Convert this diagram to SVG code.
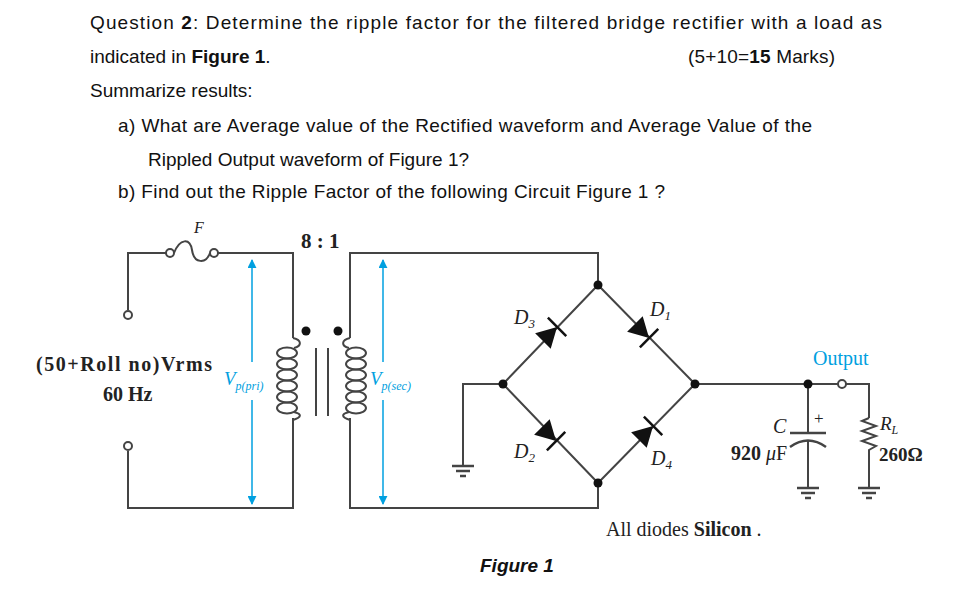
<svg xmlns="http://www.w3.org/2000/svg" width="966" height="594" viewBox="0 0 966 594">
<style>
.q{font-family:"Liberation Sans",Arial,sans-serif;font-size:19px;fill:#111}
.s{font-family:"Liberation Serif","Times New Roman",serif;fill:#222}
.w{fill:none;stroke:#444;stroke-width:2}
.dot{fill:#111}
</style>
<defs>
<g id="diode"><polygon points="-10,-11 -10,11 10,0" fill="#111"/><line x1="10" y1="-13" x2="10" y2="13" stroke="#111" stroke-width="2.5"/></g>
<g id="gnd" stroke="#444" stroke-width="2.5"><line x1="-11" y1="0" x2="11" y2="0"/><line x1="-7" y1="5" x2="7" y2="5"/><line x1="-3" y1="10" x2="3" y2="10"/></g>
<marker id="ar" viewBox="0 0 10 10" refX="9" refY="5" markerWidth="6" markerHeight="6" orient="auto-start-reverse"><path d="M0,0 L10,5 L0,10z" fill="#00a0e0"/></marker>
</defs>
<rect width="966" height="594" fill="#fff"/>
<text class="q" x="90" y="29" textLength="792">Question <tspan font-weight="bold">2</tspan>: Determine the ripple factor for the filtered bridge rectifier with a load as</text>
<text class="q" x="90" y="63">indicated in <tspan font-weight="bold">Figure 1</tspan>.</text>
<text class="q" x="688" y="63" textLength="147">(5+10=<tspan font-weight="bold">15</tspan> Marks)</text>
<text class="q" x="90" y="97">Summarize results:</text>
<text class="q" x="118" y="132" textLength="694">a)  What are Average value of the Rectified waveform and Average Value of the</text>
<text class="q" x="148" y="166">Rippled Output waveform of Figure 1?</text>
<text class="q" x="118" y="198" textLength="547">b)  Find out the Ripple Factor of the following Circuit Figure 1 ?</text>
<text class="q" x="480" y="572" font-weight="bold" font-style="italic">Figure 1</text>

<g id="connectors">
<path class="w" d="M128,310 V253 H166 M218,253 H293 V338 M293,418 V508 H128 V451"/>
<path class="w" d="M350,338 V253 H598 V285 M350,418 V508 H598 V483"/>
<path class="w" d="M598,285 L503,384 L598,483 L695,384 Z"/>
<path class="w" d="M503,384 H463 V465"/>
<path class="w" d="M695,384 H838 M846,384 H869 V418 M869,452 V487"/>
<path class="w" d="M808,384 V433 M808,441 V487"/>
</g>
<g id="fuse"><path class="w" d="M174,253 C180,238 190,238 192,250 C194,264 206,264 210,253"/><circle cx="170" cy="253" r="4" fill="#fff" stroke="#444" stroke-width="2"/><circle cx="214" cy="253" r="4" fill="#fff" stroke="#444" stroke-width="2"/>
<text class="s" x="194" y="233" font-size="16" font-style="italic">F</text></g>
<g id="source">
<circle cx="128" cy="315" r="4" fill="#fff" stroke="#444" stroke-width="2"/>
<circle cx="128" cy="446" r="4" fill="#fff" stroke="#444" stroke-width="2"/>
<text class="s" x="36" y="371" font-size="20" font-weight="bold" textLength="176">(50+Roll no)Vrms</text>
<text class="s" x="103" y="401" font-size="20" font-weight="bold">60 Hz</text>
</g>
<g id="transformer" fill="none" stroke="#444" stroke-width="2">
<path d="M293,338 C302,340 302,346 294,348"/>
<ellipse cx="287" cy="353" rx="10" ry="5.5"/><ellipse cx="287" cy="364" rx="10" ry="5.5"/><ellipse cx="287" cy="375" rx="10" ry="5.5"/><ellipse cx="287" cy="386" rx="10" ry="5.5"/><ellipse cx="287" cy="397" rx="10" ry="5.5"/><ellipse cx="287" cy="408" rx="10" ry="5.5"/>
<path d="M294,412 C302,414 302,417 293,420"/>
<path d="M350,338 C341,340 341,346 349,348"/>
<ellipse cx="356" cy="353" rx="10" ry="5.5"/><ellipse cx="356" cy="364" rx="10" ry="5.5"/><ellipse cx="356" cy="375" rx="10" ry="5.5"/><ellipse cx="356" cy="386" rx="10" ry="5.5"/><ellipse cx="356" cy="397" rx="10" ry="5.5"/><ellipse cx="356" cy="408" rx="10" ry="5.5"/>
<path d="M349,412 C341,414 341,417 350,420"/>
<line x1="316" y1="348" x2="316" y2="416"/><line x1="328" y1="348" x2="328" y2="416"/>
<circle cx="306" cy="331" r="4.5" fill="#111" stroke="none"/><circle cx="338" cy="331" r="4.5" fill="#111" stroke="none"/>
<text class="s" x="301" y="248" font-size="21" font-weight="bold" stroke="none" fill="#222">8 : 1</text>
</g>
<g id="vlabels">
<line x1="252" y1="260" x2="252" y2="362" stroke="#00a0e0" stroke-width="1.5" marker-start="url(#ar)"/>
<line x1="252" y1="400" x2="252" y2="504" stroke="#00a0e0" stroke-width="1.5" marker-end="url(#ar)"/>
<line x1="383" y1="260" x2="383" y2="362" stroke="#00a0e0" stroke-width="1.5" marker-start="url(#ar)"/>
<line x1="383" y1="400" x2="383" y2="504" stroke="#00a0e0" stroke-width="1.5" marker-end="url(#ar)"/>
<text class="s" x="224" y="385" font-size="19" font-style="italic" style="fill:#00a0e0">V<tspan font-size="12" dy="5">p(pri)</tspan></text>
<text class="s" x="370" y="385" font-size="19" font-style="italic" style="fill:#00a0e0">V<tspan font-size="12" dy="5">p(sec)</tspan></text>
</g>
<g id="bridge">
<circle class="dot" cx="598" cy="285" r="4.5"/><circle class="dot" cx="503" cy="384" r="4.5"/><circle class="dot" cx="695" cy="384" r="4.5"/><circle class="dot" cx="598" cy="483" r="4.5"/>
<use href="#diode" transform="translate(550,334) rotate(-45)"/>
<use href="#diode" transform="translate(642,331) rotate(45)"/>
<use href="#diode" transform="translate(549,434) rotate(45)"/>
<use href="#diode" transform="translate(646,433) rotate(-45)"/>
<text class="s" x="514" y="324" font-size="20" font-style="italic">D<tspan font-size="13" dy="4">3</tspan></text>
<text class="s" x="650" y="316" font-size="20" font-style="italic">D<tspan font-size="13" dy="4">1</tspan></text>
<text class="s" x="514" y="458" font-size="20" font-style="italic">D<tspan font-size="13" dy="4">2</tspan></text>
<text class="s" x="651" y="465" font-size="20" font-style="italic">D<tspan font-size="13" dy="4">4</tspan></text>
</g>
<g id="gnd-left"><use href="#gnd" transform="translate(463,466)"/></g>
<g id="capacitor">
<circle class="dot" cx="808" cy="384" r="4.5"/>
<line x1="790" y1="433" x2="826" y2="433" stroke="#444" stroke-width="2.5"/>
<path d="M790,447 Q808,434 826,447" fill="none" stroke="#444" stroke-width="2.5"/>
<text class="s" x="814" y="424" font-size="17">+</text>
<text class="s" x="773" y="433" font-size="20" font-style="italic">C</text>
<text class="s" x="731" y="460" font-size="20"><tspan font-weight="bold">920 </tspan><tspan font-style="italic">μ</tspan>F</text>
<use href="#gnd" transform="translate(808,488)"/>
</g>
<g id="load">
<path class="w" d="M869,418 L862,421 L876,426 L862,431 L876,436 L862,441 L876,446 L869,450 V452"/>
<text class="s" x="880" y="430" font-size="19" font-style="italic">R<tspan font-size="12" dy="4">L</tspan></text>
<text class="s" x="879" y="461" font-size="19" font-weight="bold">260Ω</text>
<use href="#gnd" transform="translate(869,488)"/>
</g>
<g id="output">
<circle cx="842" cy="384" r="4" fill="#fff" stroke="#444" stroke-width="2"/>
<text class="s" x="813" y="365" font-size="20" style="fill:#00a0e0">Output</text>
</g>
<text class="s" x="606" y="536" font-size="20">All diodes <tspan font-weight="bold">Silicon</tspan> .</text>
</svg>
